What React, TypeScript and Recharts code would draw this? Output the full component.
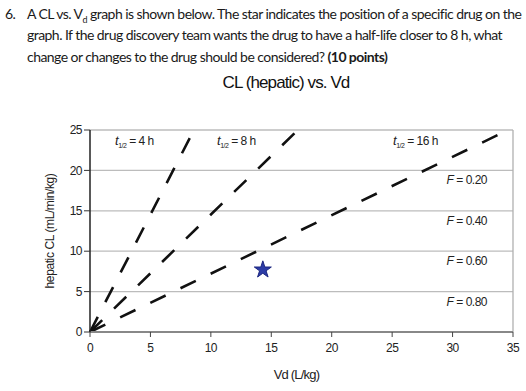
import React from 'react';
import {
  ComposedChart, Line, Scatter, XAxis, YAxis, ZAxis,
  CartesianGrid, ReferenceLine
} from 'recharts';

// half-life isolines: each runs from the origin to where it leaves the plot
const halfLives = ['4', '8', '16'];
const lineEndVd = [8.6, 17.2, 34.6];
const lineEndCl = [25, 25, 25];

// bioavailability labels sit under the grid lines
const fLabels = ['0.20', '0.40', '0.60', '0.80'];
const fCl = [20, 15, 10, 5];

// the drug (star)
const drugVd = [14.3];
const drugCl = [7.7];

const xTicks = [0, 5, 10, 15, 20, 25, 30, 35];
const yTicks = [0, 5, 10, 15, 20, 25];

const lineData = halfLives.map((_, i) => [
  { vd: 0, cl: 0 },
  { vd: lineEndVd[i], cl: lineEndCl[i] },
]);
const drugData = drugVd.map((vd, i) => ({ vd, cl: drugCl[i] }));

const FONT = 'Arial, "Liberation Sans", sans-serif';
const tickStyle = { fontSize: 12, fill: '#222', fontFamily: FONT, letterSpacing: -0.5 };

const qStyle: React.CSSProperties = {
  position: 'absolute',
  whiteSpace: 'nowrap',
  fontFamily: 'Lato, sans-serif',
  fontSize: 14,
  letterSpacing: -0.55,
  color: '#1a1a1a',
  lineHeight: '16px',
};

const halfStyle: React.CSSProperties = {
  position: 'absolute',
  whiteSpace: 'nowrap',
  fontFamily: FONT,
  fontSize: 12,
  letterSpacing: -0.5,
  color: '#222',
};

const FLabel = (text: string) => (props: any) => {
  const vb = props.viewBox || {};
  return (
    <text
      x={vb.x + vb.width - 26}
      y={vb.y + 14}
      textAnchor="end"
      fontFamily={FONT}
      fontSize={12}
      letterSpacing={-0.5}
      fill="#222"
    >
      <tspan fontStyle="italic">F</tspan> = {text}
    </text>
  );
};

const HalfLabel = ({ left, top, h }: { left: number; top: number; h: string }) => (
  <div style={{ ...halfStyle, left, top }}>
    <i style={{ fontSize: 13 }}>t</i>
    <sub style={{ fontSize: 7 }}>1/2</sub> = {h} h
  </div>
);

export default function App() {
  return (
    <div style={{ position: 'absolute', left: 0, top: 0, width: 526, height: 391, background: '#fff', overflow: 'hidden' }}>
      <div style={{ ...qStyle, left: 5, top: 6 }}>6.</div>
      <div style={{ ...qStyle, left: 27, top: 6 }}>
        A CL vs. V<sub style={{ fontSize: 9 }}>d</sub> graph is shown below. The star indicates the position of a specific drug on the
      </div>
      <div style={{ ...qStyle, left: 27, top: 27 }}>
        graph. If the drug discovery team wants the drug to have a half-life closer to 8 h, what
      </div>
      <div style={{ ...qStyle, left: 27, top: 49 }}>
        change or changes to the drug should be considered? <b>(10 points)</b>
      </div>

      <div style={{
        position: 'absolute', left: 0, top: 73, width: 526, textAlign: 'center',
        fontFamily: FONT, fontSize: 17, letterSpacing: -0.9, color: '#111', paddingLeft: 46,
        boxSizing: 'border-box',
      }}>
        CL (hepatic) vs. Vd
      </div>

      <div style={{ position: 'absolute', left: 0, top: 0 }}>
        <ComposedChart width={526} height={391} margin={{ top: 130, right: 13, bottom: 0, left: 0 }}>
          <CartesianGrid vertical={false} stroke="#bcbcbc" strokeWidth={1.3} />
          <XAxis
            type="number"
            dataKey="vd"
            domain={[0, 35]}
            ticks={xTicks}
            interval={0}
            height={59}
            tick={tickStyle}
            tickSize={5}
            tickMargin={6}
            axisLine={{ stroke: '#888', strokeWidth: 2 }}
            tickLine={{ stroke: '#444' }}
            label={{
              value: 'Vd (L/kg)', position: 'insideBottom', offset: 12, dx: -5,
              style: { fontSize: 13, fill: '#222', fontFamily: FONT, letterSpacing: -0.8 },
            }}
          />
          <YAxis
            type="number"
            dataKey="cl"
            domain={[0, 25]}
            ticks={yTicks}
            interval={0}
            width={90}
            allowDataOverflow
            tick={tickStyle}
            tickSize={6}
            tickMargin={2}
            axisLine={{ stroke: '#222', strokeWidth: 1.5 }}
            tickLine={{ stroke: '#333' }}
            label={{
              value: 'hepatic CL (mL/min/kg)', angle: -90, position: 'center', dx: 5,
              style: { fontSize: 12, fill: '#222', fontFamily: FONT, letterSpacing: -0.4 },
            }}
          />
          <ZAxis range={[90, 90]} />
          <ReferenceLine x={35} stroke="#b0b0b0" strokeWidth={1.3} />
          {fCl.map((y, i) => (
            <ReferenceLine key={`f-${i}`} y={y} stroke="none" label={FLabel(fLabels[i])} />
          ))}
          {lineData.map((d, i) => (
            <Line
              key={`t-${halfLives[i]}`}
              data={d}
              dataKey="cl"
              stroke="#111"
              strokeWidth={2.6}
              strokeDasharray="17 16.5"
              dot={false}
              activeDot={false}
              isAnimationActive={false}
            />
          ))}
          <Scatter data={drugData} dataKey="cl" shape="star" fill="#2c3ca6" stroke="#1c2680" isAnimationActive={false} />
        </ComposedChart>
      </div>

      <HalfLabel left={115} top={133} h={halfLives[0]} />
      <HalfLabel left={217} top={133} h={halfLives[1]} />
      <HalfLabel left={393} top={133} h={halfLives[2]} />
    </div>
  );
}
